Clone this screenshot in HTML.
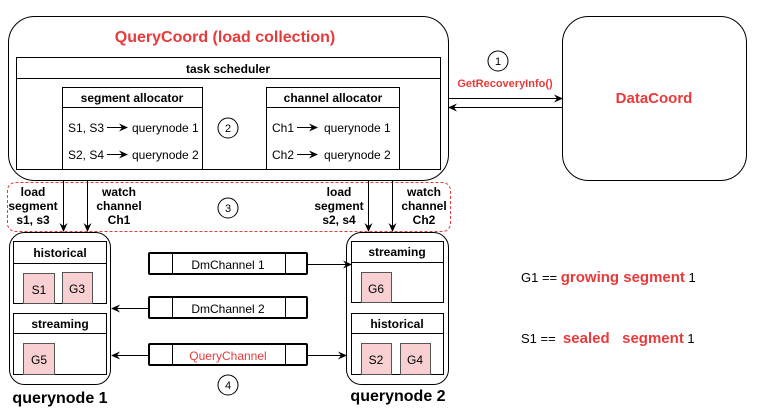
<!DOCTYPE html>
<html><head><meta charset="utf-8"><style>
html,body{margin:0;padding:0;background:#fff;width:759px;height:417px;overflow:hidden}
svg{display:block}
text{font-family:"Liberation Sans",Arial,sans-serif;fill:#000}
.b{font-weight:bold}
.r{fill:#e83a3a}
</style></head><body>
<svg width="759" height="417" viewBox="0 0 759 417" xmlns="http://www.w3.org/2000/svg">
<defs>
<marker id="a" markerWidth="10" markerHeight="10" refX="8" refY="5" orient="auto" markerUnits="userSpaceOnUse">
<path d="M0,1 L9,5 L0,9 L3,5 Z" fill="#000"/></marker>
</defs>
<g fill="none" stroke="#000" stroke-width="1">
<rect x="8.5" y="16.5" width="440" height="164" rx="26"/>
<rect x="16.5" y="57.5" width="424" height="112"/>
<line x1="16.5" y1="78.5" x2="440.5" y2="78.5"/>
<rect x="62.5" y="87.5" width="140" height="82"/>
<line x1="62.5" y1="107.5" x2="202.5" y2="107.5"/>
<rect x="266.5" y="87.5" width="133" height="82"/>
<line x1="266.5" y1="107.5" x2="399.5" y2="107.5"/>
<circle cx="228" cy="128" r="10"/>
<rect x="562.5" y="16.5" width="184" height="164" rx="26"/>
<circle cx="498" cy="61" r="10"/>
<rect x="7.5" y="182.5" width="443" height="49" rx="8" stroke="#e83a3a" stroke-dasharray="3,2"/>
<circle cx="228" cy="208" r="10"/>
<rect x="9.5" y="232.5" width="101" height="152" rx="15"/>
<rect x="13.5" y="241.5" width="93" height="62"/>
<line x1="13.5" y1="263.5" x2="106.5" y2="263.5"/>
<rect x="13.5" y="313.5" width="93" height="61"/>
<line x1="13.5" y1="333.5" x2="106.5" y2="333.5"/>
<rect x="346.5" y="232.5" width="102" height="152" rx="15"/>
<rect x="351.5" y="241.5" width="92" height="61"/>
<line x1="351.5" y1="262.5" x2="443.5" y2="262.5"/>
<rect x="351.5" y="313.5" width="92" height="61"/>
<line x1="351.5" y1="333.5" x2="443.5" y2="333.5"/>
<circle cx="228" cy="385" r="10"/>
</g>
<g fill="#f8d0d2" stroke="#555">
<rect x="23.5" y="273.5" width="31" height="30"/>
<rect x="62.5" y="272.5" width="30" height="31"/>
<rect x="23.5" y="343.5" width="31" height="31"/>
<rect x="361.5" y="272.5" width="30" height="30"/>
<rect x="361.5" y="343.5" width="30" height="31"/>
<rect x="400.5" y="343.5" width="30" height="31"/>
</g>
<g fill="#fff" stroke="#000" stroke-width="2">
<rect x="149" y="253" width="158" height="21" rx="1"/>
<rect x="149" y="297" width="158" height="21" rx="1"/>
<rect x="149" y="344" width="158" height="21" rx="1"/>
</g>
<g stroke="#000" stroke-width="1">
<line x1="172.5" y1="253" x2="172.5" y2="274"/><line x1="285.5" y1="253" x2="285.5" y2="274"/>
<line x1="172.5" y1="297" x2="172.5" y2="318"/><line x1="285.5" y1="297" x2="285.5" y2="318"/>
<line x1="172.5" y1="344" x2="172.5" y2="365"/><line x1="285.5" y1="344" x2="285.5" y2="365"/>
</g>
<g stroke="#000" stroke-width="1" marker-end="url(#a)">
<line x1="107" y1="127.5" x2="127" y2="127.5"/>
<line x1="107" y1="154.5" x2="127" y2="154.5"/>
<line x1="297" y1="127.5" x2="317" y2="127.5"/>
<line x1="297" y1="154.5" x2="317" y2="154.5"/>
<line x1="448" y1="98.5" x2="562" y2="98.5"/>
<line x1="562" y1="107.5" x2="449" y2="107.5"/>
<line x1="63.5" y1="180" x2="63.5" y2="231"/>
<line x1="87.5" y1="180" x2="87.5" y2="231"/>
<line x1="368.5" y1="180" x2="368.5" y2="231"/>
<line x1="392.5" y1="180" x2="392.5" y2="231"/>
<line x1="308" y1="264.5" x2="351" y2="264.5"/>
<line x1="149" y1="308.5" x2="112" y2="308.5"/>
<line x1="149" y1="355.5" x2="112" y2="355.5"/>
<line x1="308" y1="355.5" x2="346" y2="355.5"/>
</g>
<text x="225" y="42" text-anchor="middle" class="b r" font-size="16">QueryCoord (load collection)</text>
<text x="228" y="73" text-anchor="middle" class="b" font-size="12">task scheduler</text>
<text x="132" y="102" text-anchor="middle" class="b" font-size="12">segment allocator</text>
<text x="333" y="102" text-anchor="middle" class="b" font-size="12">channel allocator</text>
<g font-size="12">
<text x="68" y="132">S1, S3</text><text x="132" y="132">querynode 1</text>
<text x="68" y="159">S2, S4</text><text x="132" y="159">querynode 2</text>
<text x="272" y="132">Ch1</text><text x="324" y="132">querynode 1</text>
<text x="272" y="159">Ch2</text><text x="324" y="159">querynode 2</text>
</g>
<g font-size="11" text-anchor="middle">
<text x="228" y="132">2</text>
<text x="228" y="212">3</text>
<text x="228" y="389">4</text>
<text x="498" y="65">1</text>
</g>
<text x="505" y="87" text-anchor="middle" class="b r" font-size="11">GetRecoveryInfo()</text>
<text x="654" y="103" text-anchor="middle" class="b r" font-size="15">DataCoord</text>
<g class="b" font-size="12" text-anchor="middle">
<text x="33" y="196">load</text><text x="33" y="210">segment</text><text x="33" y="224">s1, s3</text>
<text x="119" y="196">watch</text><text x="119" y="210">channel</text><text x="119" y="224">Ch1</text>
<text x="339" y="196">load</text><text x="339" y="210">segment</text><text x="339" y="224">s2, s4</text>
<text x="424" y="196">watch</text><text x="424" y="210">channel</text><text x="424" y="224">Ch2</text>
<text x="60" y="257">historical</text><text x="60" y="328">streaming</text>
<text x="397" y="256">streaming</text><text x="397" y="328">historical</text>
</g>
<g font-size="12" text-anchor="middle">
<text x="39" y="294">S1</text><text x="77" y="293">G3</text><text x="39" y="364">G5</text>
<text x="376" y="293">G6</text><text x="376" y="364">S2</text><text x="415" y="364">G4</text>
<text x="228" y="269">DmChannel 1</text>
<text x="228" y="313">DmChannel 2</text>
<text x="228" y="360" class="r">QueryChannel</text>
</g>
<text x="60" y="403" text-anchor="middle" class="b" font-size="16">querynode 1</text>
<text x="398" y="401" text-anchor="middle" class="b" font-size="16">querynode 2</text>
<text x="521" y="282" font-size="13">G1 == <tspan class="b r" font-size="15">growing segment</tspan> 1</text>
<text x="521" y="343" font-size="13" xml:space="preserve">S1 ==  <tspan class="b r" font-size="15">sealed   segment</tspan> 1</text>
</svg>
</body></html>
